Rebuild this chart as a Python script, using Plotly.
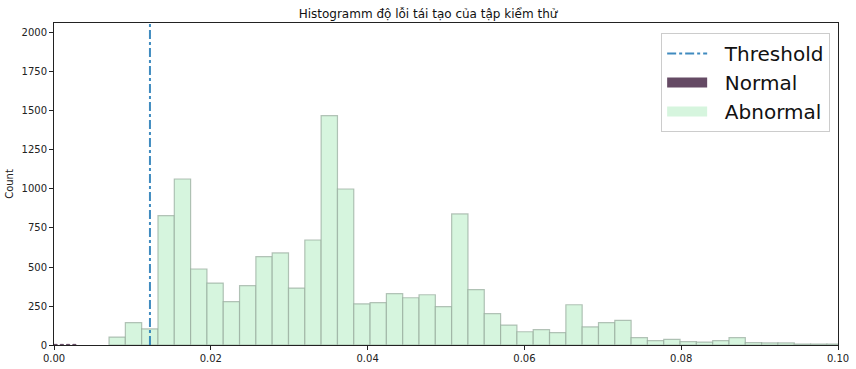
import plotly.graph_objects as go

# Data
bin_start = 0.00702
bin_width = 0.002081
abnormal_counts = [51, 143, 103, 829, 1064, 487, 397, 278, 380, 566, 590, 365, 673, 1470, 1000,
                   264, 271, 329, 303, 322, 246, 840, 355, 201, 128, 85, 98, 79, 258, 116,
                   143, 158, 47, 28, 36, 21, 19, 28, 47, 15, 13, 13, 6, 6, 6]
normal_x = [0.0002, 0.0010, 0.0018, 0.0026]
normal_counts = [4, 4, 4, 4]
threshold = 0.01224
title = "Histogramm độ lỗi tái tạo của tập kiểm thử"
y_max = 2064

ab_x = [bin_start + bin_width * (i + 0.5) for i in range(len(abnormal_counts))]

fig = go.Figure()
fig.add_trace(go.Bar(
    x=normal_x, y=normal_counts, width=[0.0004] * len(normal_x), name="Normal",
    marker=dict(color="#654a64", line=dict(color="#654a64", width=1)),
    showlegend=False,
))
fig.add_trace(go.Bar(
    x=ab_x, y=abnormal_counts, width=[bin_width] * len(ab_x), name="Abnormal",
    marker=dict(color="#d6f5de", line=dict(color="rgba(150,170,155,0.7)", width=1.2)),
    showlegend=False,
))
fig.add_trace(go.Scatter(
    x=[threshold, threshold], y=[0, y_max], mode="lines", name="  Threshold",
    line=dict(color="rgba(31,119,180,0.85)", width=2, dash="dashdot"),
    legendrank=1,
))
# legend proxies (wide rectangles like the reference)
fig.add_trace(go.Scatter(
    x=[None], y=[None], mode="lines", name="  Normal",
    line=dict(color="#654a64", width=14), legendrank=2,
))
fig.add_trace(go.Scatter(
    x=[None], y=[None], mode="lines", name="  Abnormal",
    line=dict(color="#d6f5de", width=14), legendrank=3,
))

fig.update_layout(
    width=856, height=369,
    margin=dict(l=54, r=18, t=23, b=24),
    paper_bgcolor="white", plot_bgcolor="white",
    barmode="overlay",
    font=dict(family="DejaVu Sans", size=10, color="#222"),
    title=dict(text=title, x=0.5, xanchor="center", y=0.963, yanchor="middle",
               font=dict(size=12, color="#111")),
    legend=dict(
        x=0.99, y=0.969, xanchor="right", yanchor="top",
        font=dict(size=20, color="#111"),
        bgcolor="rgba(255,255,255,0.8)", bordercolor="#ccc", borderwidth=1,
        itemwidth=40, tracegroupgap=0,
    ),
    showlegend=True,
)
fig.update_xaxes(
    range=[0, 0.1], tickvals=[0, 0.02, 0.04, 0.06, 0.08, 0.1],
    ticktext=["0.00", "0.02", "0.04", "0.06", "0.08", "0.10"],
    showgrid=False, zeroline=False, showline=True, linecolor="#222", linewidth=1,
    mirror=True, ticks="outside", ticklen=4, tickcolor="#222", automargin=False,
)
fig.update_yaxes(
    range=[0, y_max], tickvals=[0, 250, 500, 750, 1000, 1250, 1500, 1750, 2000],
    title=dict(text="Count", font=dict(size=10), standoff=6),
    showgrid=False, zeroline=False, showline=True, linecolor="#222", linewidth=1,
    mirror=True, ticks="outside", ticklen=4, tickcolor="#222", automargin=False,
)

fig.write_html("out.html", config={"displayModeBar": False},
               post_script="document.body.style.margin='0';document.body.style.overflow='hidden';")
